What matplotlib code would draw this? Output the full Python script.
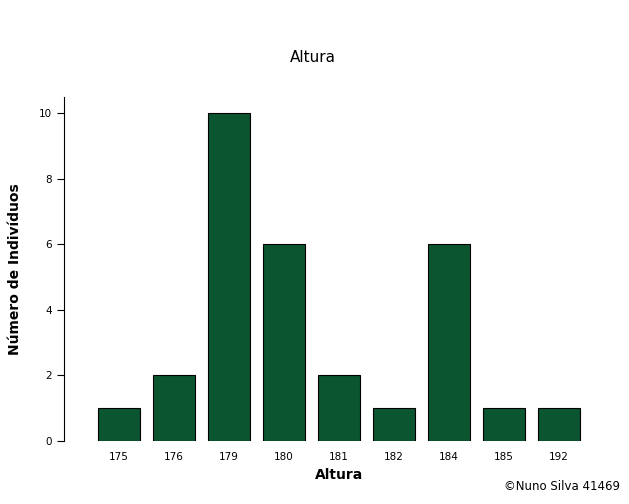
import matplotlib.pyplot as plt

categorias = ['175', '176', '179', '180', '181', '182', '184', '185', '192']
contagens = [1, 2, 10, 6, 2, 1, 6, 1, 1]

fig = plt.figure(figsize=(6.29, 5.04), dpi=100)
ax = fig.add_axes([64 / 629, 63 / 504, 550 / 629, 344 / 504])

ax.bar(range(len(categorias)), contagens, width=0.76, color='#0b5530',
       edgecolor='black', linewidth=0.8)
ax.set_xlim(-1, 9)
ax.set_ylim(0, 10.5)
ax.set_xticks(range(len(categorias)))
ax.set_xticklabels(categorias, fontsize=7.5)
ax.set_yticks([0, 2, 4, 6, 8, 10])
ax.tick_params(axis='y', labelsize=7.5, length=5)
ax.tick_params(axis='x', length=0, pad=8)
for s in ['top', 'right', 'bottom']:
    ax.spines[s].set_visible(False)
ax.spines['left'].set_linewidth(0.8)

ax.set_xlabel('Altura', fontsize=10, fontweight='bold')
ax.set_ylabel('Número de Indivíduos', fontsize=10, fontweight='bold', labelpad=12)
fig.text(313 / 629, 1 - 57 / 504, 'Altura', ha='center', va='center', fontsize=11)
fig.text(620 / 629, 1 - 487 / 504, '©Nuno Silva 41469', ha='right', va='center', fontsize=8.5)

fig.savefig('out.png', dpi=100)
